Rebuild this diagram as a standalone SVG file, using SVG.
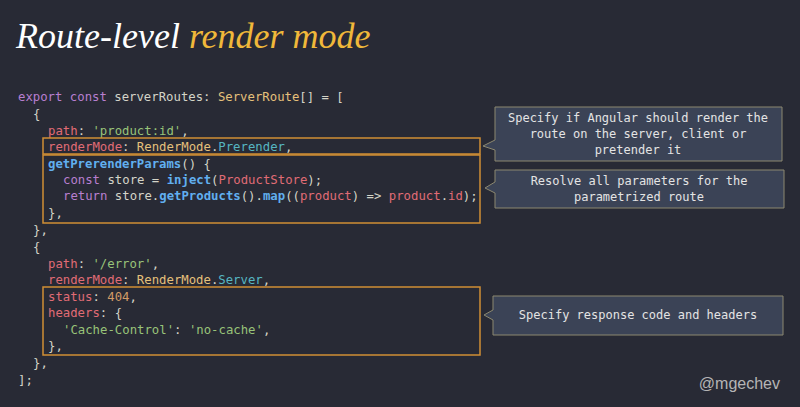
<svg xmlns="http://www.w3.org/2000/svg" width="800" height="407" viewBox="0 0 800 407">
<style>
.c{font-family:"DejaVu Sans Mono",monospace;font-size:12.3px;fill:#d4d4c8;white-space:pre}
.k{fill:#b87fd0}.t{fill:#e5c07b}.p{fill:#e06c75}.s{fill:#98c379}.q{fill:#56b6c2}.f{fill:#61afef;font-weight:bold}.n{fill:#d19a66}
.hb{fill:none;stroke:#d08f35;stroke-width:1.5}
.co{fill:#3b4356;stroke:#8c8870;stroke-width:1}
.ct{font-family:"DejaVu Sans Mono",monospace;font-size:12px;fill:#e4e4e4;text-anchor:middle}
</style>
<rect width="800" height="407" fill="#282a35"/>
<text x="16" y="48" font-family="'Liberation Serif', serif" font-style="italic" font-size="36" fill="#ffffff">Route-level <tspan fill="#f0b83a">render mode</tspan></text>
<g id="code">
<text class="c" x="18" y="101"><tspan class="k">export const</tspan> serverRoutes: <tspan class="t">ServerRoute</tspan>[] = [</text>
<text class="c" x="33" y="118">{</text>
<text class="c" x="48" y="135"><tspan class="p">path</tspan>: <tspan class="s">'product:id'</tspan>,</text>
<text class="c" x="48" y="151"><tspan class="p">renderMode</tspan>: <tspan class="t">RenderMode</tspan>.<tspan class="q">Prerender</tspan>,</text>
<text class="c" x="48" y="168"><tspan class="f">getPrerenderParams</tspan>() {</text>
<text class="c" x="63" y="184"><tspan class="k">const</tspan> store = <tspan class="f">inject</tspan>(<tspan class="p">ProductStore</tspan>);</text>
<text class="c" x="63" y="200"><tspan class="k">return</tspan> store.<tspan class="f">getProducts</tspan>().<tspan class="f">map</tspan>((<tspan class="p">product</tspan>) =&gt; <tspan class="p">product</tspan>.<tspan class="p">id</tspan>);</text>
<text class="c" x="48" y="217">},</text>
<text class="c" x="33" y="234">},</text>
<text class="c" x="33" y="251">{</text>
<text class="c" x="48" y="268"><tspan class="p">path</tspan>: <tspan class="s">'/error'</tspan>,</text>
<text class="c" x="48" y="284"><tspan class="p">renderMode</tspan>: <tspan class="t">RenderMode</tspan>.<tspan class="q">Server</tspan>,</text>
<text class="c" x="48" y="301"><tspan class="p">status</tspan>: <tspan class="n">404</tspan>,</text>
<text class="c" x="48" y="317"><tspan class="p">headers</tspan>: {</text>
<text class="c" x="63" y="334"><tspan class="s">'Cache-Control'</tspan>: <tspan class="s">'no-cache'</tspan>,</text>
<text class="c" x="48" y="350">},</text>
<text class="c" x="33" y="367">},</text>
<text class="c" x="18" y="384">];</text>
</g>
<g id="highlights">
<rect class="hb" x="43" y="138" width="437" height="16"/>
<rect class="hb" x="43" y="155" width="437" height="68"/>
<rect class="hb" x="43" y="287" width="437" height="68"/>
</g>
<g id="callout1">
<path class="co" d="M495,107 H782 V161 H495 V150 L483,146 L495,140 Z"/>
<text class="ct" x="638" y="122">Specify if Angular should render the</text>
<text class="ct" x="638" y="138">route on the server, client or</text>
<text class="ct" x="638" y="154">pretender it</text>
</g>
<g id="callout2">
<path class="co" d="M495,170 H784 V208 H495 V193 L485,188 L495,182 Z"/>
<text class="ct" x="639" y="185">Resolve all parameters for the</text>
<text class="ct" x="639" y="201">parametrized route</text>
</g>
<g id="callout3">
<path class="co" d="M493,296 H783 V335 H493 V320 L484,315 L493,310 Z"/>
<text class="ct" x="638" y="319">Specify response code and headers</text>
</g>
<text x="780" y="389" text-anchor="end" font-family="'Liberation Sans', sans-serif" font-size="16" fill="#b5b5b5">@mgechev</text>
</svg>
